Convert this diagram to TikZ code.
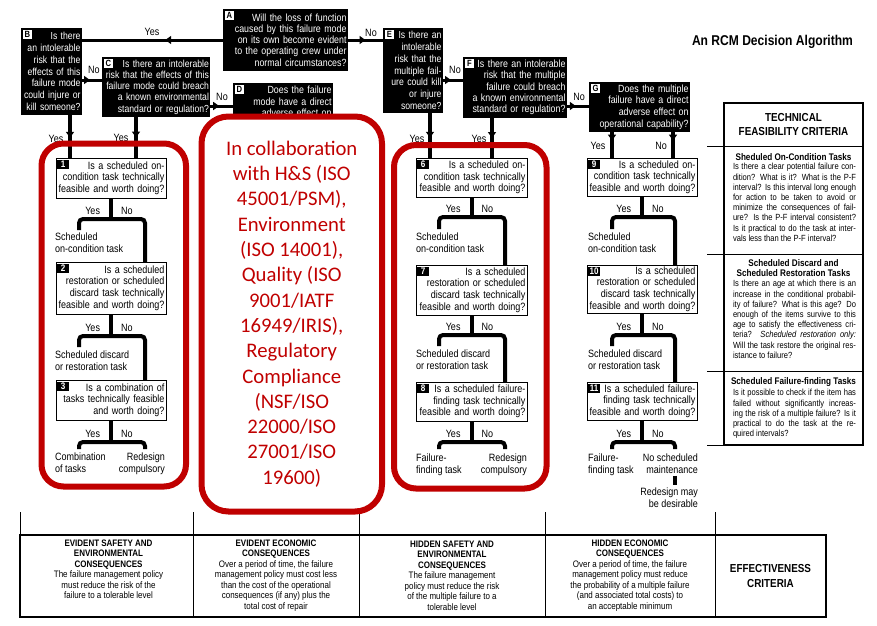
\documentclass[tikz,border=0pt]{standalone}
\usepackage{fontspec}
\setmainfont{Liberation Sans}[FakeStretch=0.85]
\newfontfamily\redfont{Carlito}
\usetikzlibrary{arrows.meta,decorations.markings,calc}
\definecolor{rcmred}{HTML}{C00000}
\newcommand\critline[1]{\makebox[123pt][s]{#1}}
\tikzset{
  every node/.style={inner sep=0pt, outer sep=0pt},
  conn/.style={line width=4pt},
  tconn/.style={line width=3pt},
  arrowat/.style={postaction={decorate}, decoration={markings, mark=at position #1 with {\arrow{Triangle[length=6pt,width=8pt]}}}},
  blk/.style={fill=black, text=white, anchor=north west, align=right, inner xsep=1.5pt, font=\fontsize{10.4}{11.2}\selectfont},
  blab/.style={fill=white, text=black, anchor=north west, minimum width=9pt, minimum height=9pt, font=\bfseries\fontsize{9}{9}\selectfont},
  qbox/.style={draw=black, line width=0.8pt, fill=white, anchor=north west, align=right, inner xsep=1.5pt, font=\fontsize{10.6}{11.6}\selectfont},
  qlab/.style={fill=black, text=white, anchor=north west, minimum width=12pt, minimum height=9pt, inner xsep=1.5pt, font=\bfseries\fontsize{9.5}{9.5}\selectfont},
  outl/.style={anchor=north west, align=left, font=\fontsize{10.6}{11.8}\selectfont},
  outr/.style={anchor=north east, align=right, font=\fontsize{10.6}{11.8}\selectfont},
  yn/.style={font=\fontsize{10.6}{11}\selectfont},
  redbox/.style={draw=rcmred, line width=6pt, rounded corners=22pt, anchor=north west},
  crit/.style={draw=black, line width=0.9pt, anchor=north west, minimum width=139pt},
  ctitle/.style={anchor=north, align=center, font=\bfseries\fontsize{9.6}{10.4}\selectfont},
  ctext/.style={anchor=north west, align=left, font=\fontsize{8.9}{10.2}\selectfont},
  cell/.style={draw=black, line width=0.9pt, anchor=north west, minimum height=82pt},
  celltext/.style={anchor=north, align=center, font=\fontsize{9.4}{10.5}\selectfont},
}
\begin{document}
\begin{tikzpicture}[x=1pt,y=-1pt]
\useasboundingbox (0,0) rectangle (877,625);
\fill[white] (0,0) rectangle (877,625);

% title
\node[anchor=west, font=\bfseries\fontsize{14.2}{15}\selectfont] (title) at (692,42) {An RCM Decision Algorithm};

% ---------- top decision boxes ----------
\node[blk, minimum width=125pt, text width=122pt, minimum height=62pt] (A) at (223,9)
  {Will the loss of function\\caused by this failure mode\\on its own become evident\\to the operating crew under\\normal circumstances?};
\node[blab] (Al) at ($(A.north west)+(2,2)$) {A};

\node[blk, minimum width=61pt, text width=58pt, minimum height=87pt, font=\fontsize{10.2}{11.8}\selectfont] (B) at (21,28)
  {Is there\\an intolerable\\risk that the\\effects of this\\failure mode\\could injure or\\kill someone?};
\node[blab] (Bl) at ($(B.north west)+(2,2)$) {B};

\node[blk, minimum width=108pt, text width=106pt, inner xsep=1pt, minimum height=60pt, font=\fontsize{10.2}{11.2}\selectfont] (C) at (102,57)
  {Is there an intolerable\\\mbox{risk that the effects of this}\\failure mode could breach\\a known environmental\\standard or regulation?};
\node[blab] (Cl) at ($(C.north west)+(2,2)$) {C};

\node[blk, minimum width=100pt, text width=97pt, minimum height=50pt] (D) at (233,83)
  {Does the failure\\mode have a direct\\adverse effect on\\operational capability?};
\node[blab] (Dl) at ($(D.north west)+(2,2)$) {D};

\node[blk, minimum width=60pt, text width=57pt, minimum height=85pt, font=\fontsize{10.2}{11.8}\selectfont] (E) at (383,28)
  {Is there an\\intolerable\\risk that the\\multiple fail-\\ure could kill\\or injure\\someone?};
\node[blab] (El) at ($(E.north west)+(2,2)$) {E};

\node[blk, minimum width=104pt, text width=101pt, minimum height=61pt] (F) at (463,57)
  {Is there an intolerable\\risk that the multiple\\failure could breach\\a known environmental\\standard or regulation?};
\node[blab] (Fl) at ($(F.north west)+(2,2)$) {F};

\node[blk, minimum width=101pt, text width=98pt, minimum height=50pt, font=\fontsize{10.4}{11.7}\selectfont] (G) at (589,82)
  {Does the multiple\\failure have a direct\\adverse effect on\\operational capability?};
\node[blab] (Gl) at ($(G.north west)+(2,2)$) {G};

% ---------- task boxes ----------
\node[qbox, minimum width=110pt, text width=107pt, minimum height=40pt] (q1) at (56,158)
  {Is a scheduled on-\\condition task technically\\feasible and worth doing?};
\node[qlab] (q1n) at ($(q1.north west)+(1.2,1.5)$) {1};
\node[qbox, minimum width=110pt, text width=107pt, minimum height=52pt] (q2) at (56,262)
  {Is a scheduled\\restoration or scheduled\\discard task technically\\feasible and worth doing?};
\node[qlab] (q2n) at ($(q2.north west)+(1.2,1.5)$) {2};
\node[qbox, minimum width=110pt, text width=107pt, minimum height=40pt] (q3) at (56,380)
  {Is a combination of\\tasks technically feasible\\and worth doing?};
\node[qlab] (q3n) at ($(q3.north west)+(1.2,1.5)$) {3};

\node[qbox, minimum width=111pt, text width=108pt, minimum height=39pt] (q6) at (416,158)
  {Is a scheduled on-\\condition task technically\\feasible and worth doing?};
\node[qlab] (q6n) at ($(q6.north west)+(1.2,1.5)$) {6};
\node[qbox, minimum width=111pt, text width=108pt, minimum height=50pt] (q7) at (416,265)
  {Is a scheduled\\restoration or scheduled\\discard task technically\\feasible and worth doing?};
\node[qlab] (q7n) at ($(q7.north west)+(1.2,1.5)$) {7};
\node[qbox, minimum width=111pt, text width=108pt, minimum height=39pt] (q8) at (416,382)
  {Is a scheduled failure-\\finding task technically\\feasible and worth doing?};
\node[qlab] (q8n) at ($(q8.north west)+(1.2,1.5)$) {8};

\node[qbox, minimum width=110pt, text width=107pt, minimum height=38pt] (q9) at (587,158)
  {Is a scheduled on-\\condition task technically\\feasible and worth doing?};
\node[qlab] (q9n) at ($(q9.north west)+(1.2,1.5)$) {9};
\node[qbox, minimum width=110pt, text width=107pt, minimum height=48pt] (q10) at (587,265)
  {Is a scheduled\\restoration or scheduled\\discard task technically\\feasible and worth doing?};
\node[qlab] (q10n) at ($(q10.north west)+(1.2,1.5)$) {10};
\node[qbox, minimum width=110pt, text width=107pt, minimum height=38pt] (q11) at (587,382)
  {Is a scheduled failure-\\finding task technically\\feasible and worth doing?};
\node[qlab] (q11n) at ($(q11.north west)+(1.2,1.5)$) {11};

% ---------- outcome texts ----------
\node[outl] (r1) at (55,233) {Scheduled\\on-condition task};
\node[outl] (r2) at (55,351) {Scheduled discard\\or restoration task};
\node[outl] (o3l) at (55,453) {Combination\\of tasks};
\node[outr] (o3r) at (165,453) {Redesign\\compulsory};

\node[outl] (r6) at (416,233) {Scheduled\\on-condition task};
\node[outl] (r7) at (416,350) {Scheduled discard\\or restoration task};
\node[outl] (o8l) at (416,454) {Failure-\\finding task};
\node[outr] (o8r) at (527,454) {Redesign\\compulsory};

\node[outl] (r9) at (588,233) {Scheduled\\on-condition task};
\node[outl] (r10) at (588,350) {Scheduled discard\\or restoration task};
\node[outl] (o11l) at (588,454) {Failure-\\finding task};
\node[outr] (o11r) at (698,454) {No scheduled\\maintenance};
\node[outr] (o11x) at (698,488) {Redesign may\\be desirable};

% ---------- top connectors ----------
\coordinate (bc) at (0,80);
\coordinate (cd) at (0,106);
\draw[tconn, arrowat=0.41] (A.west) -- (A.west -| B.east);
\node[yn] (yAB) at (152,32) {Yes};
\draw[tconn, arrowat=0.5] (A.east) -- (A.east -| E.west);
\node[yn] (nAE) at (371,33) {No};
\draw[tconn, arrowat=0.4] (B.east |- bc) -- (C.west |- bc);
\node[yn] (nBC) at (94,70) {No};
\draw[tconn, arrowat=0.4] (C.east |- cd) -- (D.west |- cd);
\node[yn] (nCD) at (222,97) {No};
\draw[tconn, arrowat=0.4] (E.east |- bc) -- (F.west |- bc);
\node[yn] (nEF) at (455,70) {No};
\draw[tconn, arrowat=0.4] (F.east |- cd) -- (G.west |- cd);
\node[yn] (nFG) at (579,97) {No};

% ---------- vertical connectors into the task columns ----------
\coordinate (xB) at (70,0);
\coordinate (xC) at (136,0);
\coordinate (xE) at (430,0);
\coordinate (xF) at (492,0);
\coordinate (xGy) at (612,0);
\coordinate (xGn) at (673,0);
\draw[conn, arrowat=0.53] (B.south -| xB) -- (q1.north -| xB);
\draw[conn, arrowat=0.5] (C.south -| xC) -- (q1.north -| xC);
\draw[conn, arrowat=0.55] (E.south -| xE) -- (q6.north -| xE);
\draw[conn, arrowat=0.5] (F.south -| xF) -- (q6.north -| xF);
\draw[conn, arrowat=0.33] (G.south -| xGy) -- (q9.north -| xGy);
\draw[conn, arrowat=0.33] (G.south -| xGn) -- (q9.north -| xGn);
\node[yn] (yB) at (56,139) {Yes};
\node[yn] (yC) at (121,138) {Yes};
\node[yn] (yE) at (417,139) {Yes};
\node[yn] (yF) at (479,139) {Yes};
\node[yn] (yG) at (598,146) {Yes};
\node[yn] (nG) at (661,146) {No};

% ---------- branches: left column ----------
\coordinate (xL1) at (79,0);
\coordinate (xL2) at (145,0);
\coordinate (j1) at (111,219);
\coordinate (j2) at (111,336);
\coordinate (j3) at (111,442);
\draw[conn] (q1.south) -- (j1);
\draw[conn, rounded corners=4pt, shorten <=3pt] (r1.north -| xL1) |- (j1) -| (q2.north -| xL2);
\draw[conn] (q2.south) -- (j2);
\draw[conn, rounded corners=4pt, shorten <=4pt] (r2.north -| xL1) |- (j2) -| (q3.north -| xL2);
\draw[conn] (q3.south) -- (j3);
\draw[conn, rounded corners=4pt, shorten <=4pt, shorten >=4pt] (o3l.north -| xL1) |- (j3) -| (o3r.north -| xL2);
\node[yn, anchor=east] (y1) at ($(j1)+(-11,-8.5)$) {Yes};
\node[yn, anchor=west] (n1) at ($(j1)+(10,-8.5)$) {No};
\node[yn, anchor=east] (y2) at ($(j2)+(-11,-8.5)$) {Yes};
\node[yn, anchor=west] (n2) at ($(j2)+(10,-8.5)$) {No};
\node[yn, anchor=east] (y3) at ($(j3)+(-11,-8.5)$) {Yes};
\node[yn, anchor=west] (n3) at ($(j3)+(10,-8.5)$) {No};

% ---------- branches: middle column ----------
\coordinate (xM1) at (439,0);
\coordinate (xM2) at (505,0);
\coordinate (j6) at (471.5,217);
\coordinate (j7) at (471.5,335);
\coordinate (j8) at (471.5,442);
\draw[conn] (q6.south) -- (j6);
\draw[conn, rounded corners=4pt, shorten <=4pt] (r6.north -| xM1) |- (j6) -| (q7.north -| xM2);
\draw[conn] (q7.south) -- (j7);
\draw[conn, rounded corners=4pt, shorten <=4pt] (r7.north -| xM1) |- (j7) -| (q8.north -| xM2);
\draw[conn] (q8.south) -- (j8);
\draw[conn, rounded corners=4pt, shorten <=5pt, shorten >=5pt] (o8l.north -| xM1) |- (j8) -| (o8r.north -| xM2);
\node[yn, anchor=east] (y6) at ($(j6)+(-11,-8.5)$) {Yes};
\node[yn, anchor=west] (n6) at ($(j6)+(10,-8.5)$) {No};
\node[yn, anchor=east] (y7) at ($(j7)+(-11,-8.5)$) {Yes};
\node[yn, anchor=west] (n7) at ($(j7)+(10,-8.5)$) {No};
\node[yn, anchor=east] (y8) at ($(j8)+(-11,-8.5)$) {Yes};
\node[yn, anchor=west] (n8) at ($(j8)+(10,-8.5)$) {No};

% ---------- branches: right column ----------
\coordinate (xR1) at (612,0);
\coordinate (xR2) at (675,0);
\coordinate (j9) at (642,217);
\coordinate (j10) at (642,335);
\coordinate (j11) at (642,442);
\draw[conn] (q9.south) -- (j9);
\draw[conn, rounded corners=4pt, shorten <=4pt] (r9.north -| xR1) |- (j9) -| (q10.north -| xR2);
\draw[conn] (q10.south) -- (j10);
\draw[conn, rounded corners=4pt, shorten <=4pt] (r10.north -| xR1) |- (j10) -| (q11.north -| xR2);
\draw[conn] (q11.south) -- (j11);
\draw[conn, rounded corners=4pt, shorten <=5pt, shorten >=5pt] (o11l.north -| xR1) |- (j11) -| (o11r.north -| xR2);
\draw[conn, shorten <=2pt, shorten >=3pt] (o11r.south -| xR2) -- (o11x.north -| xR2);
\node[yn, anchor=east] (y9) at ($(j9)+(-11,-8.5)$) {Yes};
\node[yn, anchor=west] (n9) at ($(j9)+(10,-8.5)$) {No};
\node[yn, anchor=east] (y10) at ($(j10)+(-11,-8.5)$) {Yes};
\node[yn, anchor=west] (n10) at ($(j10)+(10,-8.5)$) {No};
\node[yn, anchor=east] (y11) at ($(j11)+(-11,-8.5)$) {Yes};
\node[yn, anchor=west] (n11) at ($(j11)+(10,-8.5)$) {No};

% ---------- technical feasibility criteria ----------
\node[crit, minimum height=43pt] (tc0) at (724,103) {};
\node[crit, minimum height=108pt] (tc1) at (724,146) {};
\node[crit, minimum height=117pt] (tc2) at (724,254) {};
\node[crit, minimum height=74pt] (tc3) at (724,371) {};
\draw[line width=1.8pt] (tc0.north west) rectangle (tc3.south east);
\node[align=center, font=\bfseries\fontsize{11.6}{13.4}\selectfont] (tch) at (tc0.center) {TECHNICAL\\FEASIBILITY CRITERIA};
\node[ctitle] (ct1) at (793.5,153.5) {Sheduled On-Condition Tasks};
\node[ctext] (cb1) at (733,163.5) {\critline{Is there a clear potential failure con-}\\\critline{dition? What is it? What is the P-F}\\\critline{interval? Is this interval long enough}\\\critline{for action to be taken to avoid or}\\\critline{minimize the consequences of fail-}\\\critline{ure? Is the P-F interval consistent?}\\\critline{Is it practical to do the task at inter-}\\vals less than the P-F interval?};
\node[ctitle] (ct2) at (793.5,259.5) {Scheduled Discard and\\Scheduled Restoration Tasks};
\node[ctext] (cb2) at (733,280.5) {\critline{Is there an age at which there is an}\\\critline{increase in the conditional probabil-}\\\critline{ity of failure? What is this age? Do}\\\critline{enough of the items survive to this}\\\critline{age to satisfy the effectiveness cri-}\\\critline{teria? \textit{Scheduled restoration only:}}\\\critline{Will the task restore the original res-}\\istance to failure?};
\node[ctitle] (ct3) at (793.5,377.5) {Scheduled Failure-finding Tasks};
\node[ctext] (cb3) at (733,389.5) {\critline{Is it possible to check if the item has}\\\critline{failed without significantly increas-}\\\critline{ing the risk of a multiple failure? Is it}\\\critline{practical to do the task at the re-}\\quired intervals?};
\coordinate (k1) at (707,146);
\coordinate (k2) at (707,254);
\coordinate (k3) at (707,371);
\coordinate (k4) at (707,445);
\draw[line width=0.9pt] (k1) -- (k1 -| tc1.west);
\draw[line width=0.9pt] (k2) -- (k2 -| tc2.west);
\draw[line width=0.9pt] (k3) -- (k3 -| tc3.west);
\draw[line width=0.9pt] (k4) -- (k4 -| tc3.west);

% ---------- effectiveness criteria table ----------
\node[cell, minimum width=173pt] (c1) at (20,535) {};
\node[cell, minimum width=166pt] (c2) at (193,535) {};
\node[cell, minimum width=186pt] (c3) at (359,535) {};
\node[cell, minimum width=170pt] (c4) at (545,535) {};
\node[cell, minimum width=111pt] (c5) at (715,535) {};
\draw[line width=2pt] (c1.north west) rectangle (c5.south east);
\coordinate (v1) at (20,512);
\coordinate (v2) at (193,512);
\coordinate (v3) at (359,512);
\coordinate (v4) at (545,512);
\coordinate (v5) at (715,512);
\draw[line width=0.9pt] (v1) -- (c1.north west);
\draw[line width=0.9pt] (v2) -- (c2.north west);
\draw[line width=0.9pt] (v3) -- (c3.north west);
\draw[line width=0.9pt] (v4) -- (c4.north west);
\draw[line width=0.9pt] (v5) -- (c5.north west);
\node[celltext] (t1) at ($(c1.north)+(2,4.5)$) {\textbf{EVIDENT SAFETY AND}\\\textbf{ENVIRONMENTAL}\\\textbf{CONSEQUENCES}\\The failure management policy\\must reduce the risk of the\\failure to a tolerable level};
\node[celltext] (t2) at ($(c2.north)+(0,4.5)$) {\textbf{EVIDENT ECONOMIC}\\\textbf{CONSEQUENCES}\\Over a period of time, the failure\\management policy must cost less\\than the cost of the operational\\consequences (if any) plus the\\total cost of repair};
\node[celltext] (t3) at ($(c3.north)+(0,5.5)$) {\textbf{HIDDEN SAFETY AND}\\\textbf{ENVIRONMENTAL}\\\textbf{CONSEQUENCES}\\The failure management\\policy must reduce the risk\\of the multiple failure to a\\tolerable level};
\node[celltext] (t4) at ($(c4.north)+(0,4.5)$) {\textbf{HIDDEN ECONOMIC}\\\textbf{CONSEQUENCES}\\Over a period of time, the failure\\management policy must reduce\\the probability of a multiple failure\\(and associated total costs) to\\an acceptable minimum};
\node[align=center, font=\bfseries\fontsize{11.6}{14.5}\selectfont] (t5) at (c5.center) {EFFECTIVENESS\\CRITERIA};

% ---------- red overlay boxes ----------
\node[redbox, minimum width=144.5pt, minimum height=343pt] (redL) at (41.5,143.5) {};
\node[redbox, minimum width=152.5pt, minimum height=343.5pt] (redR) at (394,145) {};
\node[draw=rcmred, line width=6pt, fill=white, rounded corners=27pt, minimum width=180.5pt, minimum height=395pt, text=rcmred, align=center, font=\redfont\fontsize{20.7}{25.3}\selectfont] (redM) at (291.75,314)
  {In collaboration\\with H\&S (ISO\\45001/PSM),\\Environment\\(ISO 14001),\\Quality (ISO\\9001/IATF\\16949/IRIS),\\Regulatory\\Compliance\\(NSF/ISO\\22000/ISO\\27001/ISO\\19600)};
\end{tikzpicture}
\end{document}
